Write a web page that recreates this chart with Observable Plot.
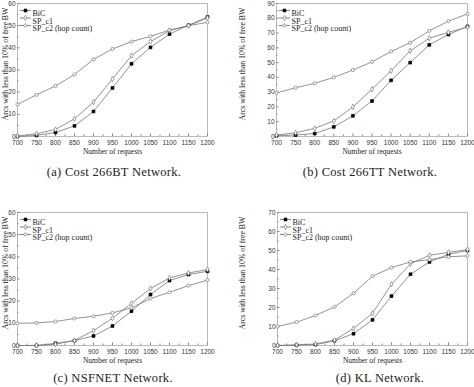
<!DOCTYPE html>
<html><head><meta charset="utf-8">
<script src="https://cdn.jsdelivr.net/npm/d3@7"></script>
<script src="https://cdn.jsdelivr.net/npm/@observablehq/plot@0.6"></script>
<style>
body{margin:0;background:#fff;}
#root{position:relative;width:474px;height:387px;overflow:hidden;}
.panel{position:absolute;}
.cap{position:absolute;font-family:"Liberation Serif",serif;font-size:12.5px;color:#222;white-space:nowrap;transform:translateX(-50%);letter-spacing:0.3px;}
</style></head>
<body><div id="root"></div>
<script>
const requests = [700, 750, 800, 850, 900, 950, 1000, 1050, 1100, 1150, 1200];
const seriesNames = ["BiC", "SP_c1", "SP_c2 (hop count)"];
const xLabel = "Number of requests";
const yLabel = "Arcs with less than 10% of free BW";

// (a) Cost 266BT
const bt_BiC = [0, 0.5, 1.8, 4.8, 11.3, 21.9, 32.8, 40.2, 46.2, 50.2, 53.9];
const bt_SP1 = [0.2, 1.2, 3.2, 8, 15.5, 26, 36.5, 42.8, 47.8, 50, 53.5];
const bt_SP2 = [14.5, 18.8, 22.8, 28, 34.8, 39.5, 42.8, 45.2, 48, 50, 51.5];
// (b) Cost 266TT
const tt_BiC = [0.5, 1, 2, 6.5, 14, 24, 38, 50, 62, 69, 74.5];
const tt_SP1 = [1, 2.5, 5.5, 10.5, 20, 32, 44.5, 58, 66.5, 70.5, 74];
const tt_SP2 = [29.5, 33, 36, 40, 45, 50.5, 57.5, 63.5, 71.5, 78, 83];
// (c) NSFNET
const ns_BiC = [0, 0, 1, 2.2, 4.3, 8.8, 15.5, 23, 29.3, 32, 33.5];
const ns_SP1 = [0, 0, 0.6, 2.3, 6.7, 12.3, 19, 25.7, 30.5, 32.7, 34.3];
const ns_SP2 = [10, 10.2, 10.8, 12.2, 13.2, 14.7, 17, 21.2, 24, 27, 29.5];
// (d) KL
const kl_BiC = [0, 0.2, 0.5, 2.5, 6.2, 13.5, 26, 37.5, 44, 48, 50];
const kl_SP1 = [0, 0.3, 0.8, 2.8, 9, 17, 32.2, 43, 47.5, 49, 50.5];
const kl_SP2 = [10, 12.3, 15.8, 20.3, 27.5, 36.5, 41, 44, 45.2, 46.7, 47.2];

const captions = ["(a) Cost 266BT Network.", "(b) Cost 266TT Network.", "(c) NSFNET Network.", "(d) KL Network."];
const yMaxes = [60, 90, 60, 70];

const panels = [
  {series: [bt_BiC, bt_SP1, bt_SP2], yMax: yMaxes[0], cap: captions[0], left: 0, top: 0, h: 165, mt: 3, mb: 29, ml: 17, mr: 30, capX: 114, capY: 165},
  {series: [tt_BiC, tt_SP1, tt_SP2], yMax: yMaxes[1], cap: captions[1], left: 237, top: 0, h: 165, mt: 3, mb: 29, ml: 39, mr: 7, capX: 370, capY: 165},
  {series: [ns_BiC, ns_SP1, ns_SP2], yMax: yMaxes[2], cap: captions[2], left: 0, top: 190, h: 180, mt: 22, mb: 25, ml: 17, mr: 30, capX: 113, capY: 371},
  {series: [kl_BiC, kl_SP1, kl_SP2], yMax: yMaxes[3], cap: captions[3], left: 237, top: 190, h: 180, mt: 22, mb: 25, ml: 40, mr: 7, capX: 380, capY: 371}
];

const symbols = ["square", "diamond", "circle"];
const fills = ["#000", "#fff", "#fff"];
const strokes = ["#000", "#777", "#777"];
const dash = {draw(ctx) { ctx.moveTo(-5.5, 0); ctx.lineTo(5.5, 0); }};

const root = document.getElementById("root");
for (const p of panels) {
  const data = [];
  p.series.forEach((vals, si) => vals.forEach((v, i) => data.push({x: requests[i], y: v, s: seriesNames[si], si})));
  const yTicks = d3.range(0, p.yMax + 1, 10);
  const yMinor = d3.range(5, p.yMax, 10);
  const xMinor = d3.range(725, 1200, 50);
  const legendMarks = [];
  seriesNames.forEach((name, i) => {
    const dy = 7 + i * 7.5;
    legendMarks.push(Plot.dot([name], {frameAnchor: "top-left", dx: 8, dy, symbol: dash, stroke: "#666", strokeWidth: 0.8, fill: "none"}));
    legendMarks.push(Plot.dot([name], {frameAnchor: "top-left", dx: 8, dy, symbol: symbols[i], r: 1.6, fill: fills[i], stroke: strokes[i], strokeWidth: 0.7}));
    legendMarks.push(Plot.text([name], {frameAnchor: "top-left", dx: 15, dy, text: d => d, textAnchor: "start", fontSize: 8, fontFamily: "Liberation Serif", fill: "#222"}));
  });
  const chart = Plot.plot({
    width: 237, height: p.h,
    marginTop: p.mt, marginBottom: p.mb, marginLeft: p.ml, marginRight: p.mr,
    style: {fontFamily: "Liberation Sans", fontSize: "6.5px", color: "#333", background: "transparent"},
    x: {domain: [700, 1200]},
    y: {domain: [0, p.yMax]},
    symbol: {domain: seriesNames, range: symbols},
    marks: [
      Plot.frame({stroke: "#aaa", strokeWidth: 0.8}),
      Plot.axisX({ticks: requests, tickSize: -2.5, tickPadding: 6, tickFormat: d => String(d), stroke: "#888", label: null}),
      Plot.axisX({ticks: xMinor, tickSize: -1.5, tickFormat: () => "", stroke: "#888", label: null}),
      Plot.axisY({ticks: yTicks, tickSize: -2.5, tickPadding: 4.5, tickFormat: d => String(d), stroke: "#888", label: null}),
      Plot.axisY({ticks: yMinor, tickSize: -1.5, tickFormat: () => "", stroke: "#888", label: null}),
      Plot.text([xLabel], {frameAnchor: "bottom", dy: 17, text: d => d, fontSize: 7.5, fontFamily: "Liberation Serif", fill: "#222"}),
      Plot.text([yLabel], {frameAnchor: "left", textAnchor: "middle", dx: -(p.ml - 5), dy: -6, rotate: -90, text: d => d, fontSize: 7.8, fontFamily: "Liberation Serif", fill: "#222"}),
      Plot.line(data, {x: "x", y: "y", z: "s", stroke: "#777", strokeWidth: 0.8}),
      Plot.dot(data, {x: "x", y: "y", symbol: "s", r: 1.6, fill: d => fills[d.si], stroke: d => strokes[d.si], strokeWidth: 0.7}),
      ...legendMarks
    ]
  });
  const wrap = document.createElement("div");
  wrap.className = "panel";
  wrap.style.left = p.left + "px";
  wrap.style.top = p.top + "px";
  wrap.appendChild(chart);
  root.appendChild(wrap);
  const cap = document.createElement("div");
  cap.className = "cap";
  cap.style.left = p.capX + "px";
  cap.style.top = p.capY + "px";
  cap.textContent = p.cap;
  root.appendChild(cap);
}
</script></body></html>
